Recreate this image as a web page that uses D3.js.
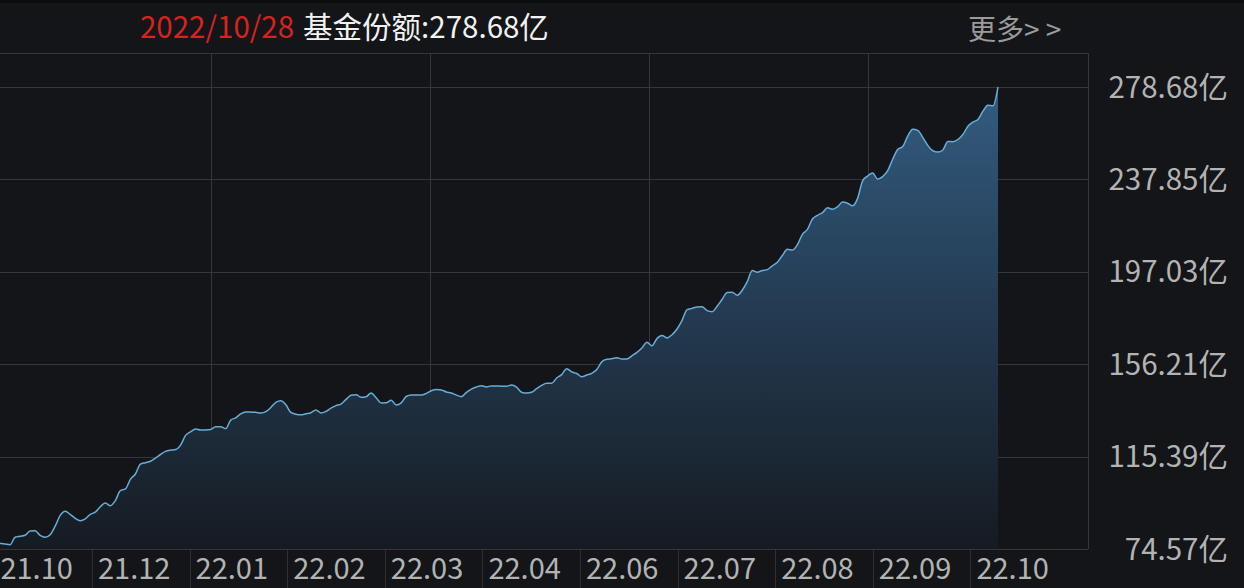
<!DOCTYPE html>
<html><head><meta charset="utf-8">
<script src="https://cdn.jsdelivr.net/npm/d3@7"></script>
<style>
html,body{margin:0;padding:0;background:#131519;overflow:hidden}
svg{display:block}
text{font-family:"Noto Sans CJK SC","Noto Sans",sans-serif}
</style>
</head><body>
<svg id="c" width="1244" height="588"></svg>
<script>
// ---------- data ----------
const dateLabel = "2022/10/28";
const titleLabel = "基金份额:";
const unit = "亿";
const moreLabel = "更多> >";
const monthLabels = ["21.10","21.12","22.01","22.02","22.03","22.04","22.06","22.07","22.08","22.09","22.10"];
const yTicks = [278.68, 237.85, 197.03, 156.21, 115.39, 74.57];
const shares = [
 77.09,76.78,76.43,79.74,80.23,80.67,82.52,82.65,80.58,79.74,
 80.89,84.64,89.41,91.27,89.90,88.13,87.07,87.91,89.90,90.83,
 93.26,94.89,93.70,95.91,100.33,101.08,105.36,107.71,112.08,112.70,
 113.36,114.77,116.32,117.69,118.26,118.48,120.47,124.76,126.35,127.59,
 127.14,127.14,127.32,128.60,128.60,127.72,131.52,132.53,134.26,135.10,
 135.05,134.96,134.61,135.23,137.08,139.38,140.04,138.28,134.88,134.12,
 133.86,134.30,134.79,135.94,134.65,135.36,136.78,137.92,138.59,140.66,
 142.47,142.74,141.59,141.86,143.49,141.41,139.12,139.16,140.27,138.23,
 139.16,141.94,142.61,142.61,142.61,143.31,144.51,145.08,144.86,143.93,
 143.49,142.56,141.86,143.76,145.21,146.14,146.72,146.19,146.63,146.63,
 146.50,146.45,147.03,146.10,143.84,143.45,143.80,145.39,146.85,147.78,
 147.78,150.12,151.62,154.23,152.81,152.11,150.69,151.44,152.19,153.87,
 157.32,158.42,158.64,159.09,158.51,158.51,159.93,161.43,163.37,165.93,
 164.34,167.52,168.89,167.83,169.25,171.76,175.61,180.29,180.87,181.49,
 181.57,179.89,179.41,181.84,184.89,187.94,187.98,186.70,188.91,192.71,
 197.66,196.86,197.61,198.01,199.69,201.23,204.24,207.02,206.62,209.01,
 213.60,215.77,220.36,222.00,223.19,225.31,224.69,225.75,227.83,227.34,
 226.20,229.47,237.24,239.32,240.73,237.99,239.10,241.70,246.78,251.07,
 252.35,256.99,260.04,259.51,256.42,252.88,250.50,249.92,250.85,254.61,
 254.52,255.49,257.70,261.32,263.18,264.33,268.04,270.60,270.40,278.68
];
const latestValue = shares[shares.length - 1];

// ---------- layout ----------
const W = 1244, H = 588;
const plot = {left: -8, right: 1088, top: 53, bottom: 549};
const dataRight = 998;
const colors = {
  bg: "#131519", grid: "#33363b", line: "#66aed9",
  red: "#d8221e", white: "#f2f2f2", axisText: "#b3b3b3", more: "#9b9b9b"
};

const svg = d3.select("#c");
svg.append("rect").attr("width", W).attr("height", H).attr("fill", colors.bg);
svg.append("rect").attr("x", 0).attr("y", 0).attr("width", W).attr("height", 3).attr("fill", "#0b0c0e");

const y = d3.scaleLinear().domain([d3.min(yTicks), d3.max(yTicks)]).range([plot.bottom, 87]);
const x = d3.scaleLinear().domain([0, shares.length - 1]).range([0, dataRight]);

// gradient
const defs = svg.append("defs");
const grad = defs.append("linearGradient").attr("id", "areaGrad")
  .attr("gradientUnits", "userSpaceOnUse")
  .attr("x1", 0).attr("x2", 0).attr("y1", y(d3.max(yTicks))).attr("y2", plot.bottom);
grad.append("stop").attr("offset", 0).attr("stop-color", "#335c80");
grad.append("stop").attr("offset", 0.5).attr("stop-color", "#233a50");
grad.append("stop").attr("offset", 1).attr("stop-color", "#161b22");

// grid
const g = svg.append("g");
const vCount = 5;
const vPos = d3.range(1, vCount).map(i => plot.left + i * (plot.right - plot.left) / vCount);
g.selectAll("line.v").data(vPos).join("line")
  .attr("x1", d => d).attr("x2", d => d).attr("y1", plot.top).attr("y2", plot.bottom)
  .attr("stroke", colors.grid).attr("stroke-width", 1).attr("shape-rendering", "crispEdges");
g.selectAll("line.h").data(yTicks.slice(0, -1)).join("line")
  .attr("x1", 0).attr("x2", plot.right).attr("y1", d => Math.round(y(d)) + 0.5).attr("y2", d => Math.round(y(d)) + 0.5)
  .attr("stroke", colors.grid).attr("stroke-width", 1);

// area + line
const area = d3.area().x((d, i) => x(i)).y0(plot.bottom).y1(d => y(d)).curve(d3.curveMonotoneX);
const line = d3.line().x((d, i) => x(i)).y(d => y(d)).curve(d3.curveMonotoneX);
svg.append("path").datum(shares).attr("d", area).attr("fill", "url(#areaGrad)");
svg.append("path").datum(shares).attr("d", line).attr("fill", "none")
  .attr("stroke", colors.line).attr("stroke-width", 1.5).attr("stroke-linejoin", "round");

// borders
svg.append("line").attr("x1", 0).attr("x2", plot.right).attr("y1", plot.top + 0.5).attr("y2", plot.top + 0.5)
  .attr("stroke", colors.grid);
svg.append("line").attr("x1", 0).attr("x2", plot.right).attr("y1", plot.bottom + 0.5).attr("y2", plot.bottom + 0.5)
  .attr("stroke", colors.grid);
svg.append("line").attr("x1", plot.right + 0.5).attr("x2", plot.right + 0.5).attr("y1", plot.top).attr("y2", plot.bottom)
  .attr("stroke", colors.grid);

// right axis labels
svg.append("g").selectAll("text").data(yTicks).join("text")
  .attr("x", 1228).attr("y", d => y(d)).attr("dy", "0.36em")
  .attr("text-anchor", "end").attr("fill", colors.axisText)
  .attr("font-size", 29.5).text(d => d.toFixed(2) + unit);

// bottom month labels in slots
const xb = d3.scaleBand().domain(monthLabels).range([-5.6, -5.6 + 97.6 * monthLabels.length]);
const bx = svg.append("g");
bx.selectAll("line").data(monthLabels.slice(1)).join("line")
  .attr("x1", d => Math.round(xb(d)) + 0.5).attr("x2", d => Math.round(xb(d)) + 0.5)
  .attr("y1", plot.bottom + 1).attr("y2", H)
  .attr("stroke", "#2b2e33");
bx.selectAll("text").data(monthLabels).join("text")
  .attr("x", d => xb(d) + 6).attr("y", 579)
  .attr("fill", colors.axisText).attr("font-size", 29).text(d => d);

// header
const hdr = svg.append("text").attr("x", 140).attr("y", 38).attr("font-size", 29.5);
hdr.append("tspan").attr("fill", colors.red).text(dateLabel);
hdr.append("tspan").attr("fill", colors.white).attr("dx", 9).text(titleLabel + latestValue.toFixed(2) + unit);

svg.append("text").attr("x", 968).attr("y", 40).attr("font-size", 28)
  .attr("fill", colors.more).text(moreLabel);
</script>
</body></html>
